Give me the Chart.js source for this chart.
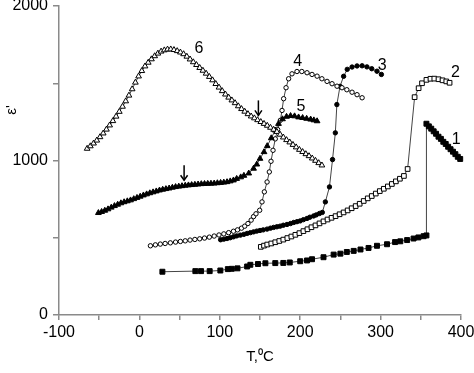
<!DOCTYPE html>
<html><head><meta charset="utf-8">
<script src="https://cdn.jsdelivr.net/npm/chart.js@4.4.1/dist/chart.umd.min.js"></script>
<style>html,body{margin:0;padding:0;background:#fff}canvas{display:block}</style>
</head><body>
<canvas id="c" width="474" height="373"></canvas>
<script>
// ---- data (T in °C, ε') ----
const t1 = [28.6,69.6,76.7,87.4,100.7,110,115,122,134,138,147.5,156.7,169,179,187,200,208.5,214.7,229,241.6,250,258,266.5,275,285,295.5,308,318,324.5,333,341,347,353.5,357,357,360,363,366,369,372,375,378,381,384,387,390,393,396,399];
const e1 = [280,284,284,284,288,297,299,302,314,325,330,335,336,337,340,348,353,361,374,391,397,408,415,424,434,448,458,472,477,485,495,502,510,515,1238,1221,1206,1189,1173,1154,1140,1121,1107,1089,1073,1057,1041,1024,1010];

const t2 = [151,155,159,164,169,174,179,184,189,194,199,204,209,214,219,224,229,234,239,244,249,254,259,264,269,274,279,284,289,294,299,304,309,314,319,324,329,333.6,342.3,347.3,351.5,357,362,366.8,372,377,381.7,385.8];
const e2 = [441,449,456,463,471,479,488,498,508,519,530,543,555,568,580,593,606,618,629,640,652,664,677,691,705,720,738,755,770,786,802,817,832,848,865,882,900,945,1410,1468,1500,1522,1529,1530,1526,1519,1512,1503];

const t3 = [101,105,109,113,117,121,125.6,130,134,138,142,146,150,154,158.8,163,167,171,175,179,183.6,188,192,196,200,204,208.5,212,216.7,220,224,227.5,231.3,236.4,240.2,243.7,245.6,249.5,254,258.5,264.5,270.7,277,283,289,295.5,301];
const e3 = [487,491,495,500,506,512,517,522,528,533,538,543,547,551,556,562,567,571,575,581,586,592,599,604,609,617,625,633,641,648,657,664,732,829,1006,1179,1362,1480,1545,1590,1605,1612,1613,1606,1594,1578,1557];

const t4 = [13.7,19.9,26,32,38.5,45,51,57,63,69,75,81,87,93,99,105,111,117,122,127,131,135,139,142,145,149.6,152.5,155.4,158.8,161.6,163.7,166.2,169,172,175.3,177.4,179.4,182.4,185.6,189.8,196,202,208.5,214.7,221,227,233.4,239.6,245.8,252,258,264.5,270.7,277];
const e4 = [448,454,459,463,467,472,476,480,485,489,493,498,504,511,518,525,533,542,551,562,575,592,614,637,655,678,732,797,861,926,995,1066,1140,1200,1260,1324,1400,1471,1529,1561,1576,1576,1568,1557,1546,1529,1512,1497,1481,1471,1458,1442,1426,1406];

const t5 = [-51,-47,-43,-39,-35,-31,-27,-23,-19,-15,-11,-7,-3,1,5,9,13,17,21,25,29,33,37,41,45,49,53,57,61,65,69,73,77,81,85,89,93,97,101,105,109,113,117,121,126,130,136,142,146,150,155,159,164,169,173,178,183,188,193,198,203,208,213,217,221];
const e5 = [661,668,676,685,696,706,715,724,731,737,743,751,759,767,775,782,789,795,801,807,812,816,820,825,829,832,835,838,840,842,844,846,848,849,850,851,852,854,856,858,861,866,872,882,892,902,917,948,975,1012,1055,1094,1145,1195,1238,1268,1284,1289,1287,1280,1276,1271,1266,1261,1255];

const t6 = [-65,-61,-57,-53,-49,-45,-41,-37,-33,-29,-25,-21,-17,-13,-9,-5,-1,3,7,11,15,19,23,27,31,35,39,43,47,51,55,59,63,67,71,75,79,83,87,91,95,99,103,107,111,115,119,123,127,131,135,139,143,147,151,155,159,163,167,171,175,179,183,187,191,195,199,203,207,211,215,219,223,227];
const e6 = [1077,1093,1111,1130,1152,1176,1201,1228,1256,1285,1316,1349,1384,1421,1462,1505,1545,1580,1610,1634,1656,1676,1693,1706,1714,1719,1720,1716,1709,1700,1689,1673,1655,1637,1619,1600,1582,1563,1542,1520,1496,1473,1450,1428,1408,1390,1372,1352,1334,1317,1301,1286,1274,1262,1250,1238,1226,1213,1200,1186,1168,1150,1133,1118,1102,1086,1070,1056,1042,1029,1014,999,984,969];

// curve numbers and arrows (in data units)
const curveNames = ['1','2','3','4','5','6'];
const nameT = [394,393,302,197,201,74];
const nameE = [1135,1572,1615,1643,1346,1723];
const arrowT = [55.6,148];
const arrowFrom = [969,1389];
const arrowTo = [872,1292];

// axes
const xTickLabels = ['-100','0','100','200','300','400'];
const yTickLabels = ['0','1000','2000'];
const xTitle = 'T,\u2070C';
const yTitle = "\u03B5'";

const pts = (t,e) => t.map((v,i)=>({x:v,y:e[i]}));

function ds(t,e,style,filled,r){
  return {
    data: pts(t,e), showLine:true, borderColor:'#444', borderWidth:1,
    pointStyle:style, pointRadius:r, pointHoverRadius:r,
    pointBackgroundColor: filled ? '#000' : '#fff',
    pointBorderColor:'#000', pointBorderWidth:1, clip:false
  };
}

const annot = {
  id:'annot',
  afterDatasetsDraw(chart){
    const {ctx, scales:{x,y}} = chart;
    ctx.save();
    ctx.fillStyle='#000';
    ctx.font='16px "Liberation Sans", Arial, sans-serif';
    ctx.textAlign='center'; ctx.textBaseline='middle';
    curveNames.forEach((n,i)=>ctx.fillText(n, x.getPixelForValue(nameT[i]), y.getPixelForValue(nameE[i])));
    ctx.strokeStyle='#000'; ctx.lineWidth=1.5;
    arrowT.forEach((t,i)=>{
      const px = x.getPixelForValue(t), p0 = y.getPixelForValue(arrowFrom[i]), p1 = y.getPixelForValue(arrowTo[i]);
      ctx.beginPath(); ctx.moveTo(px,p0); ctx.lineTo(px,p1); ctx.stroke();
      ctx.beginPath(); ctx.moveTo(px-3.5,p1-5); ctx.lineTo(px,p1); ctx.lineTo(px+3.5,p1-5); ctx.stroke();
    });
    // y title
    ctx.font='15px "Liberation Sans", Arial, sans-serif';
    ctx.translate(12,110); ctx.rotate(-Math.PI/2);
    ctx.fillText(yTitle,0,0);
    ctx.restore();
  }
};

const axisColor = '#8a8a8a';
new Chart(document.getElementById('c'), {
  type:'scatter',
  data:{datasets:[
    ds(t6,e6,'triangle',false,3.3),
    ds(t5,e5,'triangle',true,3.3),
    ds(t4,e4,'circle',false,2.2),
    ds(t3,e3,'circle',true,2.2),
    ds(t2,e2,'rect',false,3.3),
    ds(t1,e1,'rect',true,3.5)
  ]},
  options:{
    responsive:false, animation:false, devicePixelRatio:1,
    layout:{padding:{left:0,top:6,right:13,bottom:0}},
    plugins:{legend:{display:false}, tooltip:{enabled:false}},
    scales:{
      x:{type:'linear', min:-100, max:400,
        afterFit(s){ s.height = 58; s.paddingLeft = 0; s.paddingRight = 0; },
        ticks:{stepSize:50, autoSkip:false, maxRotation:0, color:'#000', padding:3,
          font:{family:'"Liberation Sans", Arial, sans-serif', size:16},
          callback:(v)=> xTickLabels.includes(String(v)) ? String(v) : ''},
        grid:{drawOnChartArea:false, drawTicks:true, tickLength:5, color:axisColor, lineWidth:1.5},
        border:{display:true, color:axisColor, width:1.5},
        title:{display:true, text:xTitle, color:'#000', padding:{top:0,bottom:7},
          font:{family:'"Liberation Sans", Arial, sans-serif', size:15}}
      },
      y:{type:'linear', min:0, max:2000,
        afterFit(s){ s.width = 59; s.paddingTop = 0; s.paddingBottom = 0; },
        ticks:{stepSize:500, autoSkip:false, color:'#000', padding:5,
          font:{family:'"Liberation Sans", Arial, sans-serif', size:16},
          callback:(v)=> yTickLabels.includes(String(v)) ? String(v) : ''},
        grid:{drawOnChartArea:false, drawTicks:true, tickLength:6, color:axisColor, lineWidth:1.5},
        border:{display:true, color:axisColor, width:1.5}
      }
    }
  },
  plugins:[annot]
});
</script>
</body></html>
